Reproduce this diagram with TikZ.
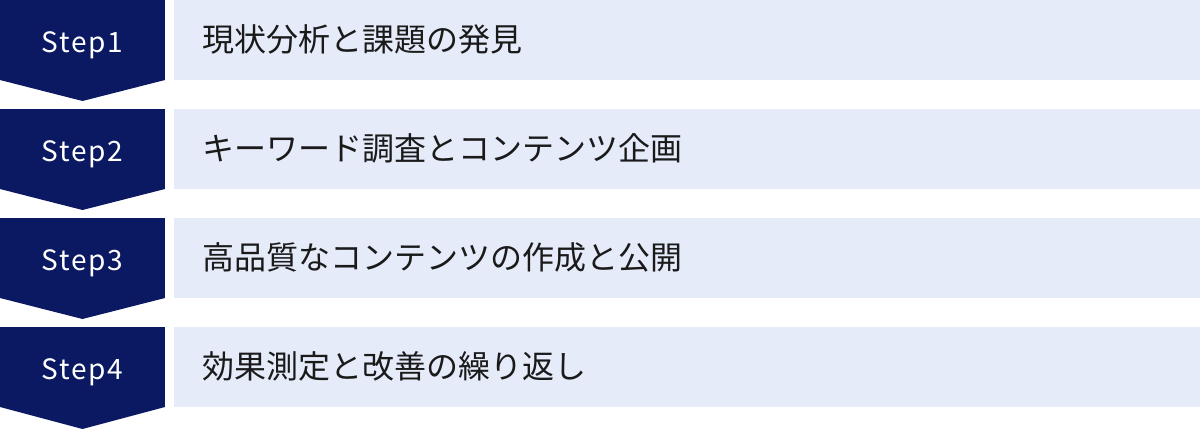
\documentclass[tikz,border=0pt]{standalone}
\usepackage{fontspec}
\newfontfamily\jpfont{Noto Sans CJK JP}
\newfontfamily\stepfont[LetterSpace=6]{Noto Sans CJK JP}
\usetikzlibrary{positioning}
\definecolor{stepnavy}{RGB}{11,25,98}
\definecolor{itemblue}{RGB}{229,235,249}
\definecolor{itemtext}{RGB}{26,26,26}

\begin{document}
\begin{tikzpicture}[
    x=1pt, y=-1pt,
    node distance=29pt and 9pt,
    stepbox/.style={rectangle, fill=stepnavy, text=white, minimum width=165pt, minimum height=80pt, inner sep=0pt, outer sep=0pt, text height=25pt, text depth=0pt, font=\stepfont\fontsize{28}{28}\selectfont},
    itembox/.style={rectangle, fill=itemblue, text=itemtext, text width=970pt, inner xsep=28pt, inner ysep=0pt, minimum height=80pt, outer sep=0pt, text height=26pt, text depth=4pt, align=left, font=\jpfont\fontsize{32}{32}\selectfont},
    tip/.style={fill=stepnavy}
]
\useasboundingbox (0,0) rectangle (1200,429);

% Steps (left)
\node[stepbox, anchor=north west] (S1) at (0,0) {Step1};
\node[stepbox, below=of S1] (S2) {Step2};
\node[stepbox, below=of S2] (S3) {Step3};
\node[stepbox, below=of S3] (S4) {Step4};

% Pointers under each step
\fill[tip] (S1.south west) -- (S1.south east) -- ([yshift=-21pt]S1.south) -- cycle;
\fill[tip] (S2.south west) -- (S2.south east) -- ([yshift=-21pt]S2.south) -- cycle;
\fill[tip] (S3.south west) -- (S3.south east) -- ([yshift=-21pt]S3.south) -- cycle;
\fill[tip] (S4.south west) -- (S4.south east) -- ([yshift=-22pt]S4.south) -- cycle;

% Items (right)
\node[itembox, right=of S1] (T1) {現状分析と課題の発見};
\node[itembox, right=of S2] (T2) {キーワード調査とコンテンツ企画};
\node[itembox, right=of S3] (T3) {高品質なコンテンツの作成と公開};
\node[itembox, right=of S4] (T4) {効果測定と改善の繰り返し};

\end{tikzpicture}
\end{document}
